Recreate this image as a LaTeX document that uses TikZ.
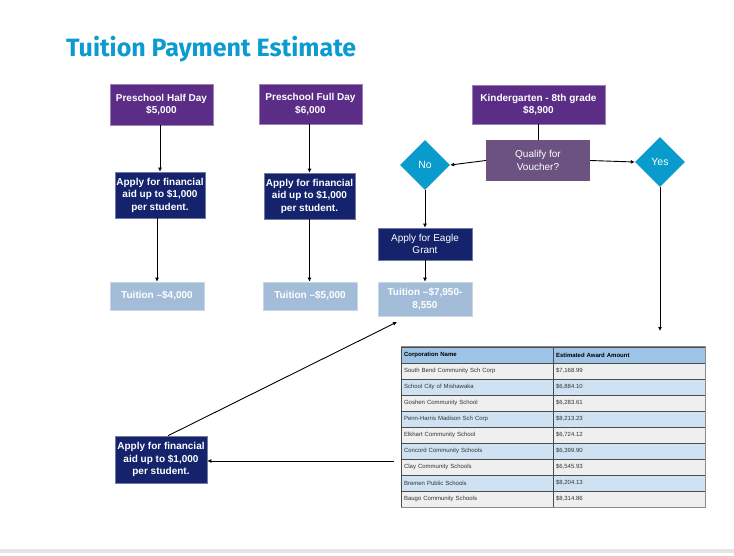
\documentclass[tikz,border=0pt]{standalone}
\usepackage{fontspec}
\setmainfont{Liberation Sans}
\newfontfamily\titlefont{Fira Sans}
\usetikzlibrary{shapes.geometric,arrows.meta}
\definecolor{cpurple}{HTML}{5B2D86}
\definecolor{cqual}{HTML}{6B5281}
\definecolor{cnavy}{HTML}{14236B}
\definecolor{ctuit}{HTML}{A3BDD9}
\definecolor{cdia}{HTML}{0A9BCD}
\definecolor{ctitle}{HTML}{0B9BD1}
\definecolor{chead}{HTML}{9DC3E6}
\definecolor{crowb}{HTML}{CFE2F3}
\definecolor{crowg}{HTML}{EFEFEF}
\tikzset{
  basebox/.style={rectangle, inner sep=1pt, align=center, text=white, font=\bfseries\fontsize{10}{12.5}\selectfont},
  purplebox/.style={basebox, fill=cpurple, draw=cpurple!60!white, line width=0.6pt},
  qualbox/.style={basebox, fill=cqual, font=\fontsize{10}{12.5}\selectfont, minimum width=104pt, minimum height=41pt},
  navybox/.style={basebox, fill=cnavy, draw=cnavy!60!white, line width=0.6pt},
  tuitbox/.style={basebox, fill=ctuit, draw=ctuit!60!white, line width=0.6pt, minimum width=94pt},
  dia/.style={diamond, fill=cdia, text=white, minimum width=50pt, minimum height=50pt, inner sep=0pt, font=\fontsize{10.5}{12}\selectfont},
  arr/.style={draw=black, line width=0.9pt, -{Latex[length=4pt,width=4pt]}},
  plain/.style={draw=black, line width=0.9pt},
  cellg/.style={rectangle, fill=crowg, draw=black!70, line width=0.4pt, minimum width=152pt, minimum height=16pt, inner sep=0pt, text width=146pt, align=left, font=\fontsize{6}{7}\selectfont, text=black!80},
  cellb/.style={cellg, fill=crowb},
  cellh/.style={cellg, fill=chead, font=\bfseries\fontsize{6}{7}\selectfont, text=black}
}
\begin{document}
\begin{tikzpicture}[x=1pt,y=-1pt]
\useasboundingbox (0,0) rectangle (734,555);
\fill[white] (0,0) rectangle (734,555);
\fill[black!10] (0,549) rectangle (734,553);
% title
\node[anchor=base west, inner sep=0pt, text=ctitle, font=\titlefont\bfseries\fontsize{25}{30}\selectfont] (title) at (66,56) {Tuition Payment Estimate};
% top boxes
\node[purplebox, minimum width=103pt, minimum height=41pt] (ph) at (161.5,104.5) {Preschool Half Day\\\$5,000};
\node[purplebox, minimum width=103pt, minimum height=40pt] (pf) at (310.5,104) {Preschool Full Day\\\$6,000};
\node[purplebox, minimum width=133pt, minimum height=39pt] (k8) at (538.5,104.5) {Kindergarten - 8th grade\\\$8,900};
% aid boxes
\node[navybox, minimum width=90pt, minimum height=46pt] (aid1) at (160,195) {Apply for financial\\aid up to \$1,000\\per student.};
\node[navybox, minimum width=91pt, minimum height=46pt] (aid2) at (309.5,196) {Apply for financial\\aid up to \$1,000\\per student.};
% tuition
\node[tuitbox, minimum height=28pt] (t1) at (157,296) {Tuition –\$4,000};
\node[tuitbox, minimum height=28pt] (t2) at (310,296) {Tuition –\$5,000};
\node[tuitbox, minimum height=34pt] (t3) at (425,299) {Tuition –\$7,950-\\8,550};
% voucher
\node[qualbox] (q) at (538,160.5) {Qualify for\\Voucher?};
\node[dia] (no) at (425,165) {No};
\node[dia] (yes) at (660,162) {Yes};
\node[navybox, minimum width=94pt, minimum height=32pt, font=\fontsize{10}{12.5}\selectfont] (eagle) at (425,244) {Apply for Eagle\\Grant};
\node[navybox, minimum width=92pt, minimum height=47pt] (aid3) at (161,459.5) {Apply for financial\\aid up to \$1,000\\per student.};
% table
\node[cellh] (h1) at (477,355) {Corporation Name};
\node[cellh] (h2) at (629,355) {Estimated Award Amount};
\node[cellg] (a1) at (477,371) {South Bend Community Sch Corp};
\node[cellg] (b1) at (629,371) {\$7,168.99};
\node[cellb] (a2) at (477,387) {School City of Mishawaka};
\node[cellb] (b2) at (629,387) {\$6,884.10};
\node[cellg] (a3) at (477,403) {Goshen Community School};
\node[cellg] (b3) at (629,403) {\$6,283.61};
\node[cellb] (a4) at (477,419) {Penn-Harris Madison Sch Corp};
\node[cellb] (b4) at (629,419) {\$8,213.23};
\node[cellg] (a5) at (477,435) {Elkhart Community School};
\node[cellg] (b5) at (629,435) {\$6,724.12};
\node[cellb] (a6) at (477,451) {Concord Community Schools};
\node[cellb] (b6) at (629,451) {\$6,399.90};
\node[cellg] (a7) at (477,467) {Clay Community Schools};
\node[cellg] (b7) at (629,467) {\$6,545.93};
\node[cellb] (a8) at (477,483) {Bremen Public Schools};
\node[cellb] (b8) at (629,483) {\$8,204.13};
\node[cellg] (a9) at (477,499) {Baugo Community Schools};
\node[cellg] (b9) at (629,499) {\$8,314.86};
\draw[black!45, line width=0.8pt] (h1.north west) -- (h2.north east) -- (b9.south east) -- (a9.south west);
% free ends
\coordinate (yesend) at (660,331);
\coordinate (tblout) at (394,461);
\coordinate (t3in) at (397,322);
% connectors
\draw[arr] (aid1.north |- ph.south) -- (aid1.north);
\draw[arr] (aid1.south -| t1.north) -- (t1.north);
\draw[arr] (aid2.north |- pf.south) -- (aid2.north);
\draw[arr] (aid2.south) -- (aid2.south |- t2.north);
\draw[plain] (k8.south) -- (k8.south |- q.north);
\draw[arr] (q.west) -- (no.east);
\draw[arr] (q.east) -- (yes.west);
\draw[arr] (no.south) -- (eagle.north);
\draw[arr] (eagle.south) -- (t3.north);
\draw[arr] (yes.south) -- (yesend);
\draw[arr] (tblout) -- (aid3.east |- tblout);
\draw[arr] ([xshift=7pt]aid3.north) -- (t3in);
\end{tikzpicture}
\end{document}
